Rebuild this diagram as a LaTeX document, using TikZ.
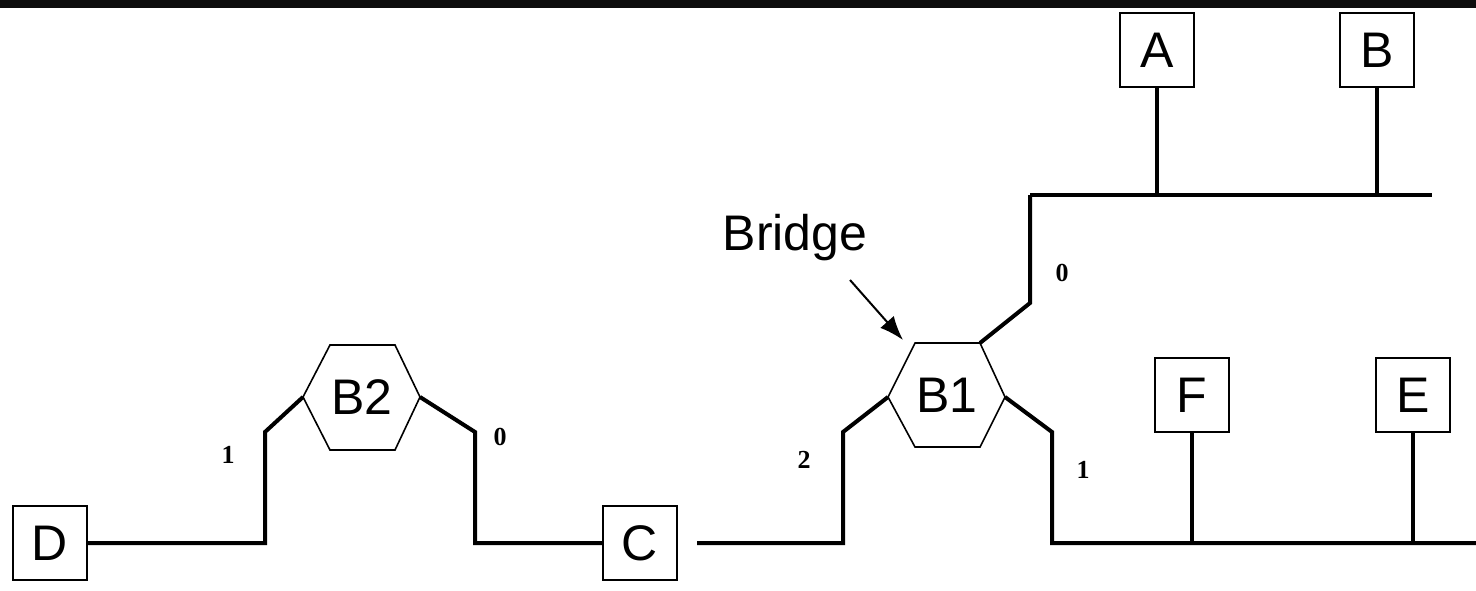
\documentclass[tikz,border=0pt]{standalone}
\usepackage{fontspec}
\setmainfont{Liberation Sans}
\newfontfamily\numfont{Liberation Serif}
\usetikzlibrary{arrows.meta}
\begin{document}
\begin{tikzpicture}[x=0.5pt,y=-0.5pt,
  station/.style={draw,line width=1pt,minimum width=37pt,minimum height=37pt,inner sep=0pt,font=\fontsize{25}{25}\selectfont},
  bus/.style={line width=2pt},
  hexa/.style={line width=0.8pt},
  port/.style={font=\numfont\bfseries\fontsize{13}{13}\selectfont},
  blabel/.style={font=\fontsize{25}{25}\selectfont}]
\useasboundingbox (0,0) rectangle (1476,590);
\fill[black!95] (0,0) rectangle (1476,8);
% stations
\node[station] (A) at (1157,50) {A};
\node[station] (B) at (1377,50) {B};
\node[station] (F) at (1192,395) {F};
\node[station] (E) at (1413,395) {E};
\node[station] (C) at (640,543) {C};
\node[station] (D) at (50,543) {D};
% bridges
\node[blabel] (B1) at (947,395) {B1};
\node[blabel] (B2) at (362,397) {B2};
\draw[hexa] (915,343) -- (980,343) -- (1005,397) -- (980,447) -- (915,447) -- (888,397) -- cycle;
\draw[hexa] (330,345) -- (395,345) -- (420,397) -- (395,450) -- (330,450) -- (303,397) -- cycle;
\coordinate (B1ur) at (980,343);
\coordinate (B1r) at (1005,397);
\coordinate (B1l) at (888,397);
\coordinate (B2r) at (420,397);
\coordinate (B2l) at (303,397);
% top LAN
\coordinate (T0) at (1030,195);
\coordinate (T1) at (1432,195);
\draw[bus] (T0) -- (T1);
\draw[bus] (A.south) -- (A.south |- T0);
\draw[bus] (B.south) -- (B.south |- T0);
\draw[bus,line join=miter] (T0) -- (1030,303) -- (B1ur);
% right lower LAN
\coordinate (R1) at (1476,543);
\draw[bus,line join=miter] (B1r) -- (1052,432) -- (1052,543) -- (R1);
\draw[bus] (F.south) -- (F.south |- R1);
\draw[bus] (E.south) -- (E.south |- R1);
% middle LAN
\draw[bus,line join=miter] (B1l) -- (843,432) -- (843,543) -- (697,543);
\draw[bus,line join=miter] (C.west) -- (475,543) -- (475,432) -- (B2r);
% left LAN
\draw[bus,line join=miter] (B2l) -- (265,432) -- (265,543) -- (D.east);
% port labels
\node[port] (p0a) at (1062,273) {0};
\node[port] (p1a) at (1083,470) {1};
\node[port] (p2a) at (804,460) {2};
\node[port] (p1b) at (228,455) {1};
\node[port] (p0b) at (500,437) {0};
% bridge callout
\node[blabel] (br) at (795,238) {Bridge};
\draw[line width=1pt,-{Latex[length=12pt,width=9pt]}] (850,280) -- (903,340);
\end{tikzpicture}
\end{document}
